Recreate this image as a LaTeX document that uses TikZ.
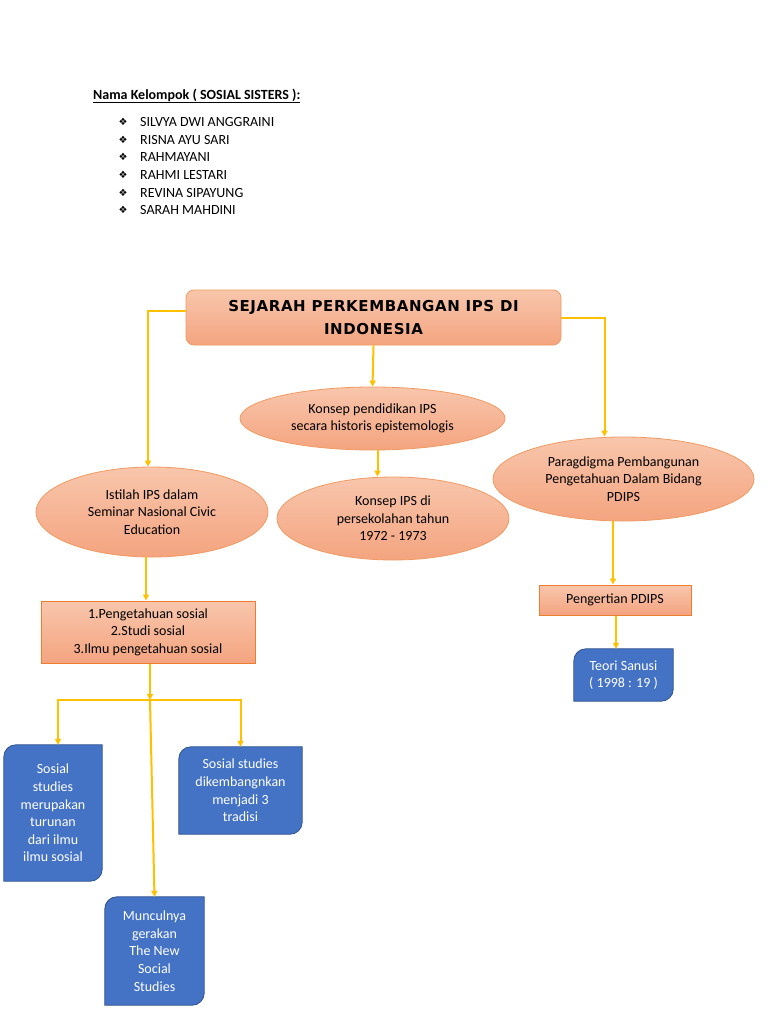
\documentclass[tikz,border=0pt]{standalone}
\usepackage{fontspec}
\setmainfont{Carlito}
\newfontfamily\titlefont[LetterSpace=4]{DejaVu Sans}
\newfontfamily\symfont{DejaVu Sans}
\usetikzlibrary{arrows.meta,backgrounds,shapes.geometric}
\pgfdeclarelayer{bottom}
\pgfsetlayers{bottom,background,main}
\definecolor{peachT}{HTML}{F8C6AC}
\definecolor{peachB}{HTML}{F4A47F}
\definecolor{peachLine}{HTML}{F19A62}
\definecolor{orangeLine}{HTML}{ED7D31}
\definecolor{gold}{HTML}{FFC000}
\definecolor{blueFill}{HTML}{4472C4}
\definecolor{blueLine}{HTML}{2F528F}
\tikzset{
 txt/.style={font=\fontsize{14}{17.6}\selectfont, align=center, inner sep=0pt},
 peach/.style={top color=peachT, bottom color=peachB, draw=peachLine, line width=0.8pt},
 oval/.style={txt, peach, ellipse},
 rectbox/.style={txt, peach, draw=orangeLine, line width=1pt},
 conn/.style={gold, line width=2pt, -{Triangle[length=6pt,width=6pt]}},
 bluetext/.style={txt, text=white},
 blueshape/.style={fill=blueFill, draw=blueLine, line width=0.8pt},
 member/.style={anchor=west, font=\fontsize{14}{17}\selectfont, inner sep=0pt},
 bul/.style={font=\symfont\fontsize{10}{12}\selectfont, inner sep=0pt},
}
\newcommand\roundDiag[1]{%
 \path[blueshape] (#1.south west) -- ([yshift=-12pt]#1.north west)
   arc[start angle=180,end angle=90,radius=12pt] -- (#1.north east)
   -- ([yshift=12pt]#1.south east)
   arc[start angle=0,end angle=-90,radius=12pt] -- cycle;}
\begin{document}
\begin{tikzpicture}[x=1pt,y=-1pt]
\begin{pgfonlayer}{bottom}
\fill[white] (0,0) rectangle (768,1024);
\end{pgfonlayer}
\useasboundingbox (0,0) rectangle (768,1024);

% header
\node[anchor=west, font=\fontsize{14}{17}\selectfont\bfseries, inner sep=0pt] (hdr) at (93,96) {\underline{Nama Kelompok ( SOSIAL SISTERS ):}};
\node[bul] (b1) at (123,122) {❖};
\node[bul] (b2) at (123,140) {❖};
\node[bul] (b3) at (123,157) {❖};
\node[bul] (b4) at (123,175) {❖};
\node[bul] (b5) at (123,193) {❖};
\node[bul] (b6) at (123,210) {❖};
\node[member] (m1) at (140,122) {SILVYA DWI ANGGRAINI};
\node[member] (m2) at (140,140) {RISNA AYU SARI};
\node[member] (m3) at (140,157) {RAHMAYANI};
\node[member] (m4) at (140,175) {RAHMI LESTARI};
\node[member] (m5) at (140,193) {REVINA SIPAYUNG};
\node[member] (m6) at (140,210) {SARAH MAHDINI};

% title
\node[peach, rounded corners=8pt, minimum width=375pt, minimum height=55pt, inner sep=0pt,
      align=center, font=\titlefont\bfseries\fontsize{15}{23}\selectfont] (title) at (373.5,317.5)
      {SEJARAH PERKEMBANGAN IPS DI\\INDONESIA};

% ovals
\node[oval, minimum width=265pt, minimum height=63pt] (konsep1) at (372.5,418.5)
      {Konsep pendidikan IPS\\secara historis epistemologis};
\node[oval, minimum width=232pt, minimum height=83pt] (konsep2) at (393,518.5)
      {Konsep IPS di\\persekolahan tahun\\1972 - 1973};
\node[oval, minimum width=232pt, minimum height=90pt] (istilah) at (152,512)
      {Istilah IPS dalam\\Seminar Nasional Civic\\Education};
\node[oval, minimum width=261pt, minimum height=84pt] (parad) at (623.5,479)
      {Paragdigma Pembangunan\\Pengetahuan Dalam Bidang\\PDIPS};

% rectangles
\node[rectbox, minimum width=214pt, minimum height=62pt] (rect1) at (148,632)
      {1.Pengetahuan sosial\\2.Studi sosial\\3.Ilmu pengetahuan sosial};
\node[rectbox, minimum width=152pt, minimum height=30pt] (pdips) at (615,600)
      {Pengertian PDIPS};

% blue boxes
\node[bluetext, minimum width=98pt, minimum height=136pt] (lb) at (53,813)
      {Sosial\\studies\\merupakan\\turunan\\dari ilmu\\ilmu sosial};
\node[bluetext, minimum width=123pt, minimum height=87pt] (rb) at (240.5,790.5)
      {Sosial studies\\dikembangnkan\\menjadi 3\\tradisi};
\node[bluetext, minimum width=99pt, minimum height=108pt] (bb) at (154.5,951)
      {Munculnya\\gerakan\\The New\\Social\\Studies};
\node[bluetext, minimum width=99pt, minimum height=52pt] (teori) at (623.5,675)
      {Teori Sanusi\\( 1998 : 19 )};
\begin{scope}[on background layer]
\roundDiag{lb}
\roundDiag{rb}
\roundDiag{bb}
\roundDiag{teori}
\end{scope}

% connectors
\coordinate (j) at (150,700);
\coordinate (pdtop) at ([xshift=-2pt]pdips.north);
\draw[conn] ([yshift=7pt]title.west) -| ([xshift=-4pt]istilah.north);
\draw[conn] (title.east) -| ([xshift=-19pt]parad.north);
\draw[conn] (title.south) -- (konsep1.north);
\draw[conn] ([xshift=5pt]konsep1.south) -- ([xshift=5pt]konsep1.south |- konsep2.north);
\draw[conn] ([xshift=-6pt]istilah.south) -- ([xshift=-6pt]istilah.south |- rect1.north);
\draw[conn] ([xshift=2pt]rect1.south) -- (j);
\draw[conn] (j) -| ([xshift=5pt]lb.north);
\draw[conn] (j) -| (rb.north);
\draw[conn] (j) -- (bb.north);
\draw[conn] (parad.south -| pdtop) -- (pdtop);
\draw[conn] ([xshift=1pt]pdips.south) -- ([xshift=1pt]pdips.south |- teori.north);
\end{tikzpicture}
\end{document}
